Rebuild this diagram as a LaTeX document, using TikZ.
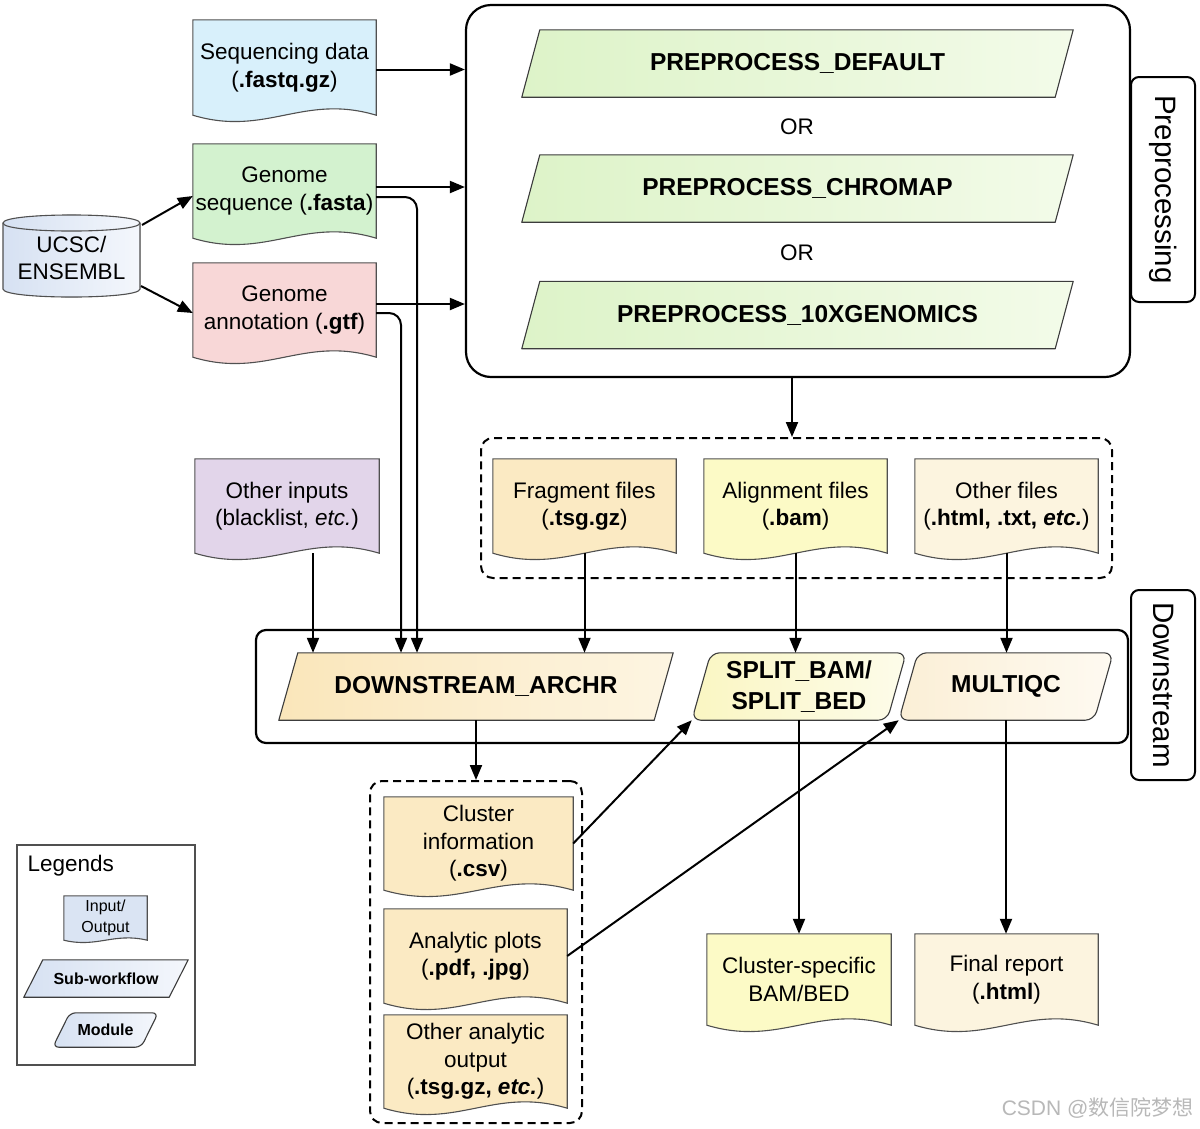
\documentclass[tikz,border=0pt]{standalone}
\usepackage{fontspec}
\setmainfont{Liberation Sans}
\newfontfamily\cjkfont{Noto Sans CJK SC}
\usetikzlibrary{arrows.meta,shapes.geometric,backgrounds,calc}
\definecolor{seqc}{HTML}{D8F0FB}
\definecolor{gseqc}{HTML}{D3F2CF}
\definecolor{gannc}{HTML}{F8D7D7}
\definecolor{othc}{HTML}{E2D5EA}
\definecolor{fragc}{HTML}{FBEAC3}
\definecolor{alnc}{HTML}{FCFAC6}
\definecolor{ofc}{HTML}{FCF4DF}
\definecolor{docline}{HTML}{505050}
\definecolor{boxline}{HTML}{3C3C3C}
\definecolor{lblue}{HTML}{DAE4F3}
\definecolor{gL}{HTML}{DDF3C8}
\definecolor{gR}{HTML}{F3FBE9}
\definecolor{oL}{HTML}{FAE6BA}
\definecolor{oR}{HTML}{FDF5E2}
\definecolor{yL}{HTML}{FAF6C2}
\definecolor{yR}{HTML}{FDFCEA}
\definecolor{cL}{HTML}{FBEFD6}
\definecolor{cR}{HTML}{FEFAF1}
\definecolor{bL}{HTML}{D6E1F2}
\definecolor{bR}{HTML}{F4F7FC}
% document shape behind a rectangular node
\newcommand\docsh[3][22]{%
  \begin{scope}[on background layer]
    \filldraw[fill=#3, draw=docline, line width=1.1pt]
      (#2.north west) -- (#2.north east) -- (#2.south east)
      .. controls ($(#2.south east)!0.4!(#2.south west)+(0,-#1)$)
      and ($(#2.south west)!0.4!(#2.south east)+(0,#1)$) .. (#2.south west) -- cycle;
  \end{scope}}
% parallelogram behind a rectangular node: [rounding]{name}{slant}{left colour}{right colour}
\newcommand\parash[5][0.01pt]{%
  \begin{scope}[on background layer]
    \draw[left color=#4, right color=#5, draw=boxline, line width=1.1pt, rounded corners=#1]
      ([xshift=#3]#2.north west) -- (#2.north east) -- ([xshift=-#3]#2.south east)
      -- (#2.south west) -- cycle;
  \end{scope}}
\begin{document}
\begin{tikzpicture}[x=1pt,y=-1pt,
  arr/.style={-{Triangle[length=15pt,width=12pt]}, line width=2pt, black},
  txt/.style={font=\fontsize{22.5}{27.5}\selectfont, align=center},
  doc/.style={txt, rectangle, inner sep=0pt},
  bigbold/.style={font=\fontsize{24.5}{31}\selectfont\bfseries, align=center},
  para/.style={rectangle, inner sep=0pt, bigbold},
  container/.style={draw, rounded corners=25pt, line width=2.2pt, inner sep=0pt},
  tabbox/.style={draw, rounded corners=8pt, line width=2pt, rotate=-90, inner sep=0pt,
    font=\fontsize{29.5}{30}\selectfont},
  dashbox/.style={draw, dash pattern=on 8pt off 5pt, rounded corners=12pt, line width=2pt, inner sep=0pt},
]
\begin{scope}[on background layer]
  \fill[white] (0,0) rectangle (1200,1128);
\end{scope}
\useasboundingbox (0,0) rectangle (1200,1128);

% ---------- inputs ----------
\node[doc, minimum width=183pt, minimum height=95pt] (seq) at (284.5,67.5) {Sequencing data\\(\textbf{.fastq.gz})};
\docsh{seq}{seqc}
\node[doc, minimum width=183pt, minimum height=94pt] (gseq) at (284.5,191) {Genome\\sequence (\textbf{.fasta})};
\docsh{gseq}{gseqc}
\node[doc, minimum width=183pt, minimum height=94pt] (gann) at (284.5,310) {Genome\\annotation (\textbf{.gtf})};
\docsh{gann}{gannc}

% cylinder
\node[doc, minimum width=137pt, minimum height=82pt] (ucsc) at (71.5,258) {UCSC/\\ENSEMBL};
\begin{scope}[on background layer]
  \filldraw[left color=bL, right color=bR, draw=docline, line width=1.1pt]
    (3,223) -- (3,289) .. controls (3,299.7) and (140,299.7) .. (140,289)
    -- (140,223) .. controls (140,212.3) and (3,212.3) .. (3,223) -- cycle;
  \draw[docline, line width=1.1pt] (3,223) .. controls (3,233.7) and (140,233.7) .. (140,223);
\end{scope}
\coordinate (u1) at (142,225);
\coordinate (u2) at (141,286);
\draw[arr] (u1) -- ([yshift=-5pt]gseq.west);
\draw[arr] (u2) -- ([yshift=-3pt]gann.west);

% ---------- preprocessing ----------
\node[container, minimum width=664pt, minimum height=372pt] (prep) at (798,191) {};
\node[tabbox, minimum width=225pt, minimum height=64pt] (ptab) at (1163,189.5) {Preprocessing};
\node[para, minimum width=551pt, minimum height=67pt] (pdef) at (797.5,63.5) {PREPROCESS\_DEFAULT};
\parash{pdef}{18pt}{gL}{gR}
\node[txt] (or1) at (797,127) {OR};
\node[para, minimum width=551pt, minimum height=67pt] (pchr) at (797.5,188.5) {PREPROCESS\_CHROMAP};
\parash{pchr}{18pt}{gL}{gR}
\node[txt] (or2) at (797,253) {OR};
\node[para, minimum width=551pt, minimum height=67pt] (p10x) at (797.5,315) {PREPROCESS\_10XGENOMICS};
\parash{p10x}{18pt}{gL}{gR}

\draw[arr] ([yshift=-2pt]seq.east) -- ([yshift=-2pt]seq.east -| prep.west);
\draw[arr] ([yshift=4pt]gseq.east) -- ([yshift=4pt]gseq.east -| prep.west);
\draw[arr] ([yshift=6pt]gann.east) -- ([yshift=6pt]gann.east -| prep.west);

% ---------- intermediate files ----------
\node[dashbox, minimum width=631pt, minimum height=140pt] (dbox1) at (796.5,508) {};
\node[doc, minimum width=184pt, minimum height=94pt] (oth) at (287,506) {Other inputs\\(blacklist, \textit{etc.})};
\docsh{oth}{othc}
\node[doc, minimum width=183pt, minimum height=94pt] (frag) at (584.5,506) {Fragment files\\(\textbf{.tsg.gz})};
\docsh{frag}{fragc}
\node[doc, minimum width=183pt, minimum height=94pt] (aln) at (795.5,506) {Alignment files\\(\textbf{.bam})};
\docsh{aln}{alnc}
\node[doc, minimum width=183pt, minimum height=94pt] (ofil) at (1006.5,506) {Other files\\(\textbf{.html, .txt, \textit{etc.}})};
\docsh{ofil}{ofc}

\coordinate (pout) at ([xshift=-6pt]prep.south);
\draw[arr] (pout) -- (pout |- dbox1.north);

% ---------- downstream ----------
\node[container, rounded corners=10pt, minimum width=872pt, minimum height=113pt] (ds) at (692,686.5) {};
\node[tabbox, minimum width=190pt, minimum height=64pt] (dtab) at (1163,685) {Downstream};
\node[para, minimum width=394pt, minimum height=67pt] (archr) at (476,686.5) {DOWNSTREAM\_ARCHR};
\parash{archr}{19pt}{oL}{oR}
\node[para, minimum width=214pt, minimum height=67pt] (split) at (799,686.5) {SPLIT\_BAM/\\SPLIT\_BED};
\parash[9pt]{split}{19pt}{yL}{yR}
\node[para, minimum width=214pt, minimum height=67pt] (mqc) at (1006,686.5) {MULTIQC};
\parash[9pt]{mqc}{19pt}{cL}{cR}

\coordinate (othout) at ([xshift=26pt]oth.south);
\draw[arr] (othout) -- (othout |- archr.north);
\coordinate (gtfx) at (401,0);
\coordinate (fastax) at (417,0);
\draw[arr, rounded corners=12pt] ([yshift=-3pt]gann.east) -| (archr.north -| gtfx);
\draw[arr, rounded corners=12pt] ([yshift=-6pt]gseq.east) -| (archr.north -| fastax);
\draw[arr] (frag.south) -- (frag.south |- archr.north);
\draw[arr] (aln.south) -- (aln.south |- split.north);
\draw[arr] (ofil.south) -- (ofil.south |- mqc.north);

% ---------- outputs ----------
\node[dashbox, minimum width=212pt, minimum height=342pt] (dbox2) at (476,952) {};
\node[doc, minimum width=189pt, minimum height=93pt] (cinfo) at (478.5,843.5) {Cluster\\information\\(\textbf{.csv})};
\docsh{cinfo}{fragc}
\node[doc, minimum width=183pt, minimum height=94pt] (aplot) at (475.5,956) {Analytic plots\\(\textbf{.pdf, .jpg})};
\docsh{aplot}{fragc}
\node[doc, minimum width=183pt, minimum height=93pt] (oout) at (475.5,1061.5) {Other analytic\\output\\(\textbf{.tsg.gz, \textit{etc.}})};
\docsh{oout}{fragc}
\node[doc, minimum width=184pt, minimum height=91pt] (cspec) at (799,979.5) {Cluster-specific\\BAM/BED};
\docsh{cspec}{alnc}
\node[doc, minimum width=183pt, minimum height=91pt] (final) at (1006.5,979.5) {Final report\\(\textbf{.html})};
\docsh{final}{ofc}

\draw[arr] (archr.south) -- (archr.south |- dbox2.north);
\draw[arr] (cinfo.east) -- (split.south west);
\draw[arr] (aplot.east) -- (mqc.south west);
\draw[arr] (split.south) -- (split.south |- cspec.north);
\draw[arr] (mqc.south) -- (mqc.south |- final.north);

% ---------- legend ----------
\node[draw=docline, line width=1.2pt, minimum width=178pt, minimum height=220pt, inner sep=0pt] (leg) at (106,955) {};
\node[txt, anchor=west] (legt) at (24,866) {Legends};
\node[doc, font=\fontsize{16}{21}\selectfont, minimum width=83pt, minimum height=44pt] (lio) at (105.5,918) {Input/\\Output};
\docsh[8]{lio}{lblue}
\node[para, font=\fontsize{16}{20}\selectfont\bfseries, minimum width=164pt, minimum height=37pt] (lsub) at (106,978.5) {Sub-workflow};
\parash{lsub}{19pt}{bL}{bR}
\node[para, font=\fontsize{16}{20}\selectfont\bfseries, minimum width=105pt, minimum height=34pt] (lmod) at (105.5,1030) {Module};
\parash[6pt]{lmod}{17pt}{bL}{bR}

% watermark
\node[anchor=east, text=black!28, font=\fontsize{21}{24}\selectfont] (wm) at (1197,1108) {CSDN @{\cjkfont 数信院梦想}};
\end{tikzpicture}
\end{document}
